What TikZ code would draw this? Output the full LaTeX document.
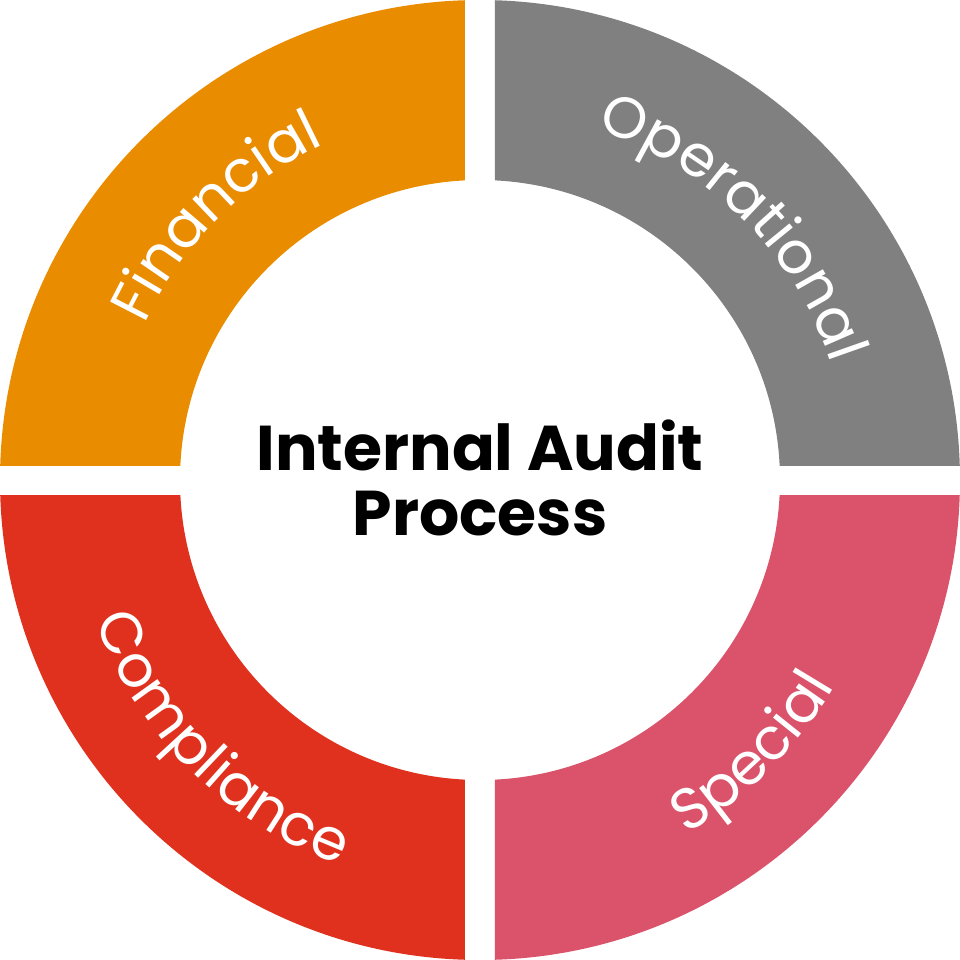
\documentclass[tikz,border=0pt]{standalone}
\usepackage{fontspec}
\setmainfont{Poppins}
\usetikzlibrary{decorations.text}
\definecolor{finOrange}{HTML}{EA8C00}
\definecolor{opGray}{HTML}{808080}
\definecolor{compRed}{HTML}{E0311F}
\definecolor{specPink}{HTML}{DB526B}
\tikzset{
    ring/.style={fill=#1, even odd rule},
    arclabel/.style={decorate, decoration={text along path, text align=center,
        text={|\fontsize{16.5}{16.5}\selectfont\color{white}|#1}}},
  }
\begin{document}
\begin{tikzpicture}
  \useasboundingbox (-4.8,-4.8) rectangle (4.8,4.8);
  %quadrants
  \foreach \qx/\qy/\col in {-1/1/finOrange, 1/1/opGray, -1/-1/compRed, 1/-1/specPink}{
    \begin{scope}
      \clip (\qx*0.15,\qy*0.15) rectangle (\qx*5,\qy*5);
      \fill[ring=\col] (0,0) circle (4.8) (0,0) circle (3.0);
    \end{scope}
  }
  %labels
  \path[arclabel=Financial] (180:3.7) arc[start angle=180, end angle=90, radius=3.7];
  \path[arclabel=Operational] (90:3.7) arc[start angle=90, end angle=0, radius=3.7];
  \path[arclabel=Compliance] (180:4.1) arc[start angle=180, end angle=270, radius=4.1];
  \path[arclabel=Special] (270:4.1) arc[start angle=270, end angle=360, radius=4.1];
  \node[font=\fontsize{18}{18.5}\selectfont\bfseries, align=center] (title) at (0,0.02) {Internal Audit\\Process};
\end{tikzpicture}
\end{document}
